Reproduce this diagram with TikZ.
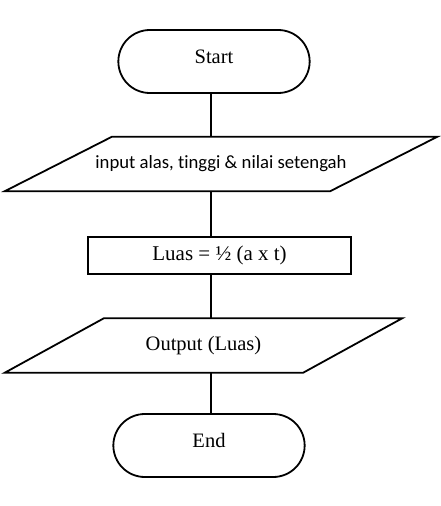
\documentclass[tikz,border=0pt]{standalone}
\usepackage{fontspec}
\setmainfont{Liberation Serif}
\newfontfamily\calibri[Ligatures=NoCommon]{Carlito}
\usetikzlibrary{shapes.misc}

\tikzset{
  terminal/.style={draw, line width=1.8pt, rounded rectangle, minimum width=198pt,
    minimum height=63pt, text depth=10pt, font=\fontsize{20.5}{24}\selectfont},
  io/.style={rectangle, minimum height=54pt, inner sep=0pt},
  process/.style={draw, line width=1.8pt, rectangle, minimum width=263pt,
    minimum height=37pt, font=\fontsize{21}{24}\selectfont},
  link/.style={line width=1.8pt, line join=miter}
}

\begin{document}
\begin{tikzpicture}[x=1pt,y=-1pt]
  \useasboundingbox (0,0) rectangle (440,506);

  % flowchart
  \draw (214,61.5)  node[terminal] (start) {Start};
  \draw (221,164)   node[io, minimum width=325pt, font=\calibri\fontsize{18.7}{22}\selectfont] (inp) {input alas, tinggi \& nilai setengah};
  \draw (219.5,255.5) node[process] (luas) {Luas = ½ (a x t)};
  \draw (203.5,345.5) node[io, minimum width=298pt, font=\fontsize{20.5}{24}\selectfont] (outp) {Output (Luas)};
  \draw (209,445.5) node[terminal] (stop) {End};
  \coordinate (spine) at (211,0);

  % parallelograms
  \draw[link] ([xshift=-53.5pt]inp.south west) -- ([xshift=53.5pt]inp.north west)
    -- ([xshift=53.5pt]inp.north east) -- ([xshift=-53.5pt]inp.south east) -- cycle;
  \draw[link] ([xshift=-49.5pt]outp.south west) -- ([xshift=49.5pt]outp.north west)
    -- ([xshift=49.5pt]outp.north east) -- ([xshift=-49.5pt]outp.south east) -- cycle;

  \draw[link] (start.south -| spine) -- (inp.north -| spine);
  \draw[link] (inp.south -| spine)   -- (luas.north -| spine);
  \draw[link] (luas.south -| spine)  -- (outp.north -| spine);
  \draw[link] (outp.south -| spine)  -- (stop.north -| spine);

\end{tikzpicture}
\end{document}
